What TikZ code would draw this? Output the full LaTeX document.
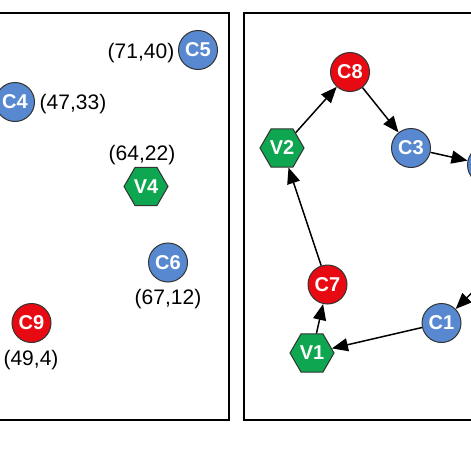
\documentclass[tikz,border=0pt]{standalone}
\usepackage{fontspec}
\setmainfont{Liberation Sans}
\usetikzlibrary{shapes.geometric,arrows.meta}
\definecolor{cblue}{RGB}{88,137,208}
\definecolor{cred}{RGB}{232,10,18}
\definecolor{cgreen}{RGB}{14,166,80}

\begin{document}
\begin{tikzpicture}[x=0.5pt,y=-0.5pt,font=\fontsize{10.5}{12}\selectfont,
  nodo/.style={circle,draw=black!80,line width=0.5pt,minimum size=19.5pt,inner sep=0pt,
    text=white,font=\fontsize{10}{12}\selectfont\bfseries},
  cli/.style={nodo,fill=cblue},
  cri/.style={nodo,fill=cred},
  veh/.style={regular polygon,regular polygon sides=6,draw=black!80,line width=0.5pt,
    fill=cgreen,minimum size=22pt,inner sep=0pt,text=white,font=\fontsize{10}{12}\selectfont\bfseries},
  lbl/.style={anchor=base,inner sep=0pt},
  arr/.style={-{Triangle[length=8pt,width=6.5pt]},line width=0.75pt}]
\useasboundingbox (0,0) rectangle (471,471);
\clip (0,0) rectangle (471,471);
% paneles
\draw[line width=1pt] (-30,13) rectangle (229,420);
\draw[line width=1pt] (243.5,13) rectangle (520,420);
% panel izquierdo
\node[cli] (c5) at (198,50) {C5};
\node[lbl] (l5) at (141,58) {(71,40)};
\node[cli] (c4) at (15,102) {C4};
\node[lbl] (l4) at (73,109) {(47,33)};
\node[veh] (v4) at (146,186.5) {V4};
\node[lbl] (lv4) at (142,160) {(64,22)};
\node[cli] (c6) at (168,262.5) {C6};
\node[lbl] (l6) at (168,304) {(67,12)};
\node[cri] (c9) at (31.5,323) {C9};
\node[lbl] (l9) at (31,365) {(49,4)};
% panel derecho
\node[cri] (c8) at (350,72) {C8};
\node[veh] (v2) at (282,148) {V2};
\node[cli] (c3) at (411,148) {C3};
\node[cli] (cr) at (487,165) {};
\node[cri] (c7) at (327.5,284.5) {C7};
\node[veh] (v1) at (312,353) {V1};
\node[cli] (c1) at (441.5,323) {C1};
\coordinate (co) at (525,240);
% ruta
\draw[arr] (v1) -- (c7);
\draw[arr] (c7) -- (v2);
\draw[arr] (v2) -- (c8);
\draw[arr] (c8) -- (c3);
\draw[arr] (c3) -- (cr);
\draw[arr] (co) -- (c1);
\draw[arr] (c1) -- (v1);
\end{tikzpicture}
\end{document}
